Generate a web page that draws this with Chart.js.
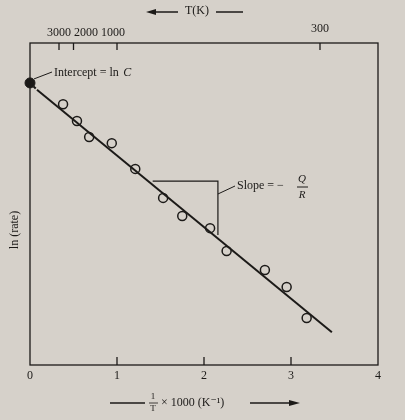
<!DOCTYPE html>
<html><head><meta charset="utf-8">
<script src="https://cdn.jsdelivr.net/npm/chart.js@4.4.1/dist/chart.umd.min.js"></script>
<style>html,body{margin:0;background:#d6d1ca}#c{display:block}</style>
</head><body><canvas id="c" width="405" height="420"></canvas>
<script>
// measured points: 1/T x 1000 vs ln(rate) (arbitrary units)
const invT = [0.38, 0.54, 0.68, 0.94, 1.21, 1.53, 1.75, 2.07, 2.26, 2.70, 2.95, 3.18];
const lnRate = [8.1, 7.58, 7.08, 6.89, 6.09, 5.19, 4.63, 4.25, 3.54, 2.95, 2.42, 1.46];
const fitX = [0.08, 3.47];
const fitY = [8.55, 1.02];
const dashX = [0, 0.08];
const dashY = [8.76, 8.55];
const interceptX = [0];
const interceptY = [8.76];
const slopeX = [1.41, 2.16, 2.16];
const slopeY = [5.71, 5.71, 4.04];
const bottomTicks = [0, 1, 2, 3, 4];
const topTicks = [1 / 3, 0.5, 1, 1 / 0.3];
const topLabels = ["3000", "2000", "1000", "300"];

const pts = (xs, ys) => xs.map((x, i) => ({ x, y: ys[i] }));
const ink = "#1c1a18";
const serif = "'Liberation Serif', 'DejaVu Serif', serif";

const decor = {
  id: "decor",
  afterDraw(chart) {
    const { ctx, chartArea: a, scales: { x, y } } = chart;
    ctx.save();
    ctx.strokeStyle = ink; ctx.fillStyle = ink; ctx.lineWidth = 1.3;
    ctx.strokeRect(a.left, a.top, a.right - a.left, a.bottom - a.top);
    // inner ticks
    bottomTicks.slice(1, 4).forEach(v => {
      const px = x.getPixelForValue(v);
      ctx.beginPath(); ctx.moveTo(px, a.bottom); ctx.lineTo(px, a.bottom - 8); ctx.stroke();
    });
    topTicks.forEach(v => {
      const px = x.getPixelForValue(v);
      ctx.beginPath(); ctx.moveTo(px, a.top); ctx.lineTo(px, a.top + 7); ctx.stroke();
    });
    ctx.font = "12px " + serif;
    ctx.textAlign = "center"; ctx.textBaseline = "top";
    bottomTicks.forEach(v => ctx.fillText(String(v), x.getPixelForValue(v), a.bottom + 5));
    // top labels
    ctx.textBaseline = "bottom";
    ctx.fillText(topLabels.slice(0, 3).join(" "), (x.getPixelForValue(1 / 3) + x.getPixelForValue(1)) / 2 - 2, a.top - 4);
    ctx.fillText(topLabels[3], x.getPixelForValue(topTicks[3]), a.top - 8);
    // T(K) title
    ctx.textBaseline = "middle";
    ctx.fillText("T(K)", 197, 11);
    ctx.beginPath(); ctx.moveTo(150, 12); ctx.lineTo(178, 12); ctx.moveTo(216, 12); ctx.lineTo(243, 12); ctx.stroke();
    ctx.beginPath(); ctx.moveTo(146, 12); ctx.lineTo(156, 9); ctx.lineTo(156, 15); ctx.closePath(); ctx.fill();
    // bottom title
    ctx.beginPath(); ctx.moveTo(110, 403); ctx.lineTo(145, 403); ctx.moveTo(250, 403); ctx.lineTo(292, 403); ctx.stroke();
    ctx.beginPath(); ctx.moveTo(300, 403); ctx.lineTo(289, 400); ctx.lineTo(289, 406); ctx.closePath(); ctx.fill();
    ctx.font = "9px " + serif;
    ctx.fillText("1", 153, 397); ctx.fillText("T", 153, 409);
    ctx.beginPath(); ctx.lineWidth = 0.8; ctx.moveTo(149, 403); ctx.lineTo(158, 403); ctx.stroke();
    ctx.font = "12px " + serif; ctx.textAlign = "left";
    ctx.fillText("\u00d7 1000 (K\u207b\u00b9)", 161, 403);
    // y title
    ctx.save(); ctx.translate(15, 230); ctx.rotate(-Math.PI / 2);
    ctx.textAlign = "center"; ctx.fillText("ln (rate)", 0, 0); ctx.restore();
    // annotations
    const ix = x.getPixelForValue(interceptX[0]), iy = y.getPixelForValue(interceptY[0]);
    ctx.lineWidth = 1;
    ctx.beginPath(); ctx.moveTo(52, 72); ctx.lineTo(ix + 4, iy - 4); ctx.stroke();
    ctx.textAlign = "left";
    ctx.fillText("Intercept = ln ", 54, 73);
    ctx.font = "italic 12px " + serif; ctx.fillText("C", 54 + ctx.measureText("Intercept = ln ").width, 73);
    ctx.font = "12px " + serif;
    const sx = x.getPixelForValue(slopeX[1]);
    ctx.beginPath(); ctx.moveTo(235, 186); ctx.lineTo(sx, 194); ctx.stroke();
    ctx.fillText("Slope = \u2212", 237, 186);
    ctx.font = "italic 11px " + serif; ctx.textAlign = "center";
    ctx.fillText("Q", 302, 179); ctx.fillText("R", 302, 195);
    ctx.beginPath(); ctx.moveTo(297, 187); ctx.lineTo(308, 187); ctx.stroke();
    ctx.restore();
  }
};

new Chart(document.getElementById("c"), {
  type: "scatter",
  data: {
    datasets: [
      { data: pts(fitX, fitY), showLine: true, borderColor: ink, borderWidth: 2, pointRadius: 0 },
      { data: pts(dashX, dashY), showLine: true, borderColor: ink, borderWidth: 2, borderDash: [3, 2], pointRadius: 0 },
      { data: pts(slopeX, slopeY), showLine: true, borderColor: ink, borderWidth: 1.2, pointRadius: 0 },
      { data: pts(invT, lnRate), pointRadius: 4.5, pointBackgroundColor: "#d6d1ca", pointBorderColor: ink, pointBorderWidth: 1.5 },
      { data: pts(interceptX, interceptY), clip: false, pointRadius: 5, pointBackgroundColor: ink, pointBorderColor: ink }
    ]
  },
  options: {
    responsive: false, animation: false,
    layout: { padding: { left: 30, right: 27, top: 43, bottom: 55 } },
    plugins: { legend: { display: false }, tooltip: { enabled: false } },
    scales: {
      x: { type: "linear", min: 0, max: 4, display: false },
      y: { type: "linear", min: 0, max: 10, display: false }
    }
  },
  plugins: [decor]
});
</script></body></html>
